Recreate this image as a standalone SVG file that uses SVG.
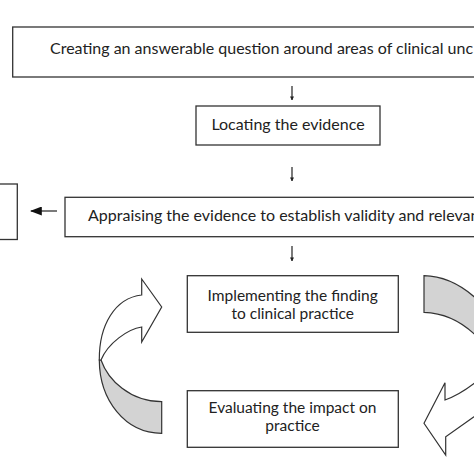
<svg xmlns="http://www.w3.org/2000/svg" width="474" height="474" viewBox="0 0 474 474">
<defs>
<style>
.box{fill:#fff;stroke:#333;stroke-width:1.3}
.t{font-family:Lato,"Liberation Sans",sans-serif;font-size:16px;fill:#222}
.s{font-size:15.5px}
.c{text-anchor:middle}
.shape{stroke:#333;stroke-width:1.2;stroke-linejoin:miter}
.conn{stroke:#222;stroke-width:1.2;fill:none}
</style>
<marker id="ah" viewBox="0 0 10 10" refX="9" refY="5" markerWidth="4" markerHeight="4" markerUnits="userSpaceOnUse" orient="auto">
<path d="M0,0 L10,5 L0,10 Z" fill="#222"/>
</marker>
<marker id="ahb" viewBox="0 0 10 10" refX="9" refY="5" markerWidth="12" markerHeight="9" markerUnits="userSpaceOnUse" orient="auto" preserveAspectRatio="none">
<path d="M0,0 L10,5 L0,10 Z" fill="#111"/>
</marker>
</defs>
<rect width="474" height="474" fill="#fff"/>
<g id="connectors">
<line class="conn" x1="292" y1="86" x2="292" y2="100" marker-end="url(#ah)"/>
<line class="conn" x1="292" y1="167" x2="292" y2="181" marker-end="url(#ah)"/>
<line class="conn" x1="292" y1="246" x2="292" y2="261" marker-end="url(#ah)"/>
<line class="conn" x1="57" y1="211" x2="31" y2="211" stroke-width="1.6" marker-end="url(#ahb)"/>
</g>
<g id="node-question">
<rect class="box" x="12.7" y="27" width="480" height="50"/>
<text class="t" x="50" y="54">Creating an answerable question around areas of clinical unc</text>
</g>
<g id="node-locating">
<rect class="box" x="196" y="106" width="184" height="39"/>
<text class="t" x="288" y="130" text-anchor="middle">Locating the evidence</text>
</g>
<g id="node-left">
<rect class="box" x="-5" y="184" width="22.3" height="55.5"/>
</g>
<g id="node-appraising">
<rect class="box" x="65" y="197.3" width="430" height="39.4"/>
<text class="t" x="88" y="221">Appraising the evidence to establish validity and relevan</text>
</g>
<g id="node-implementing">
<rect class="box" x="187.3" y="275.7" width="211" height="56.6"/>
<text class="t s c" x="292.7" y="301">Implementing the finding</text>
<text class="t s c" x="292.7" y="319">to clinical practice</text>
</g>
<g id="node-evaluating">
<rect class="box" x="187.3" y="390.7" width="211" height="56.6"/>
<text class="t s c" x="292.5" y="412.5">Evaluating the impact on</text>
<text class="t s c" x="292.5" y="430.5">practice</text>
</g>
<g id="cycle-left">
<path class="shape" fill="#d3d3d3" d="M99.3,360 C99.5,400 125,433.3 161.7,433.3 L161.7,401.7 C130,401.7 108,380 101,360 Z"/>
<path class="shape" fill="#fff" d="M141.7,295 L141.7,279 L161.7,307 L141.7,342 L141.7,327 C128,329 108,343 101,360 L99.3,360 C99,325 115,298 141.7,295 Z"/>
</g>
<g id="cycle-right">
<path class="shape" fill="#d3d3d3" d="M424,275.7 C446,276 466,288 482,304 L482,342 C468,326 448,313 424,312.3 Z"/>
<path class="shape" fill="#fff" d="M424,423.3 L445,382.7 L445,400 C456,396 468,389 482,377 L482,411 C468,421 455,430 445.7,436.7 L445.7,455 Z"/>
</g>
</svg>
